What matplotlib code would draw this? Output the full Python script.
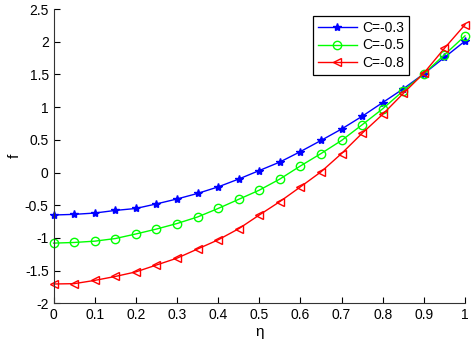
import numpy as np
import matplotlib
matplotlib.use("Agg")
import matplotlib.pyplot as plt

plt.rcParams['font.family'] = ['Liberation Sans', 'DejaVu Sans']

eta = [0, 0.05, 0.1, 0.15, 0.2, 0.25, 0.3, 0.35, 0.4, 0.45, 0.5,
       0.55, 0.6, 0.65, 0.7, 0.75, 0.8, 0.85, 0.9, 0.95, 1.0]
f_c03 = [-0.65, -0.64, -0.62, -0.58, -0.55, -0.48, -0.405, -0.32, -0.22, -0.10, 0.03,
         0.16, 0.32, 0.49, 0.665, 0.86, 1.07, 1.28, 1.51, 1.76, 2.01]
f_c05 = [-1.08, -1.07, -1.05, -1.01, -0.94, -0.865, -0.78, -0.68, -0.55, -0.41, -0.27,
         -0.10, 0.10, 0.29, 0.49, 0.73, 0.975, 1.25, 1.51, 1.80, 2.09]
f_c08 = [-1.705, -1.70, -1.65, -1.59, -1.52, -1.415, -1.31, -1.17, -1.03, -0.86, -0.65,
         -0.445, -0.22, 0.01, 0.29, 0.60, 0.89, 1.21, 1.52, 1.90, 2.26]
labels = ['C=-0.3', 'C=-0.5', 'C=-0.8']

fig = plt.figure(figsize=(4.74, 3.48), dpi=100)
ax = fig.add_axes([0.113, 0.1285, 0.868, 0.8455])

ax.plot(eta, f_c03, color='#0000ff', marker='*', markersize=6, lw=1, label=labels[0], clip_on=False)
ax.plot(eta, f_c05, color='#00ff00', marker='o', markersize=6, mfc='none', lw=1, label=labels[1], clip_on=False)
ax.plot(eta, f_c08, color='#ff0000', marker='<', markersize=6, mfc='none', lw=1, label=labels[2], clip_on=False)

ax.set_xlim(0, 1)
ax.set_ylim(-2, 2.5)
ax.set_xticks(np.arange(0, 1.01, 0.1))
ax.set_xticklabels(['0', '0.1', '0.2', '0.3', '0.4', '0.5', '0.6', '0.7', '0.8', '0.9', '1'])
ax.set_yticks(np.arange(-2, 2.51, 0.5))
ax.set_yticklabels(['-2', '-1.5', '-1', '-0.5', '0', '0.5', '1', '1.5', '2', '2.5'])
ax.tick_params(direction='in', length=4, labelsize=10, width=0.8)
for s in ['top', 'right']:
    ax.spines[s].set_visible(False)
for s in ['left', 'bottom']:
    ax.spines[s].set_color('#333333')

ax.set_xlabel('η', fontsize=11, labelpad=2)
ax.set_ylabel('f', fontsize=11)
ax.yaxis.set_label_coords(-0.078, 0.5)

leg = ax.legend(loc='upper left', bbox_to_anchor=(0.631, 0.976), borderaxespad=0,
                fontsize=10, fancybox=False, edgecolor='black', framealpha=1,
                handlelength=2.8, borderpad=0.35, labelspacing=0.25, handletextpad=0.4)
leg.get_frame().set_linewidth(0.9)

fig.savefig('out.png', dpi=100)
